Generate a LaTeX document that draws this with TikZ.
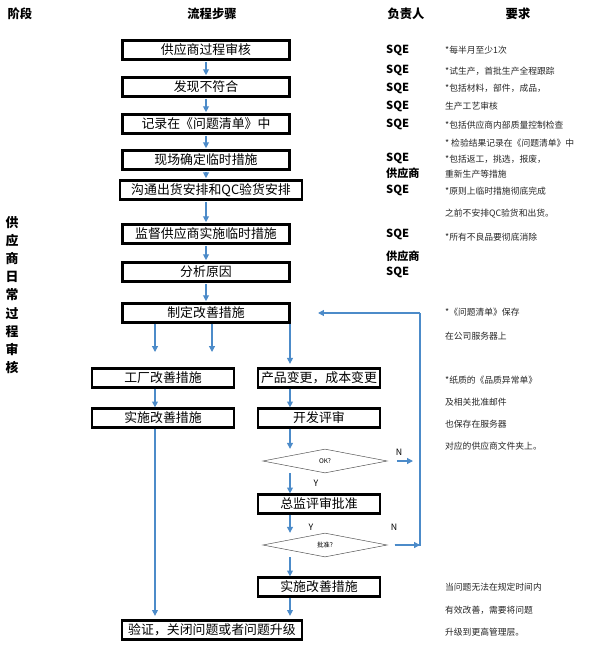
\documentclass[tikz,border=0pt]{standalone}
\usepackage{fontspec}
\setmainfont{Noto Sans CJK SC}
\usetikzlibrary{shapes.geometric,arrows.meta}
\begin{document}
\begin{tikzpicture}[x=0.03cm,y=-0.03cm,
 box/.style={draw,line width=2pt,minimum height=19*0.85pt,inner sep=1pt,font=\fontsize{11}{12}\selectfont},
 dia/.style={draw=black!70,diamond,aspect=5.5,inner sep=0pt,minimum width=125*0.85pt,minimum height=24*0.85pt,font=\fontsize{5.5}{6}\selectfont},
 arr/.style={draw=blue!50!cyan!70!black!70,line width=1pt,-{Triangle[length=5pt,width=5pt]}},
 lin/.style={draw=blue!50!cyan!70!black!70,line width=1pt},
 hd/.style={font=\bfseries\fontsize{10.5}{12}\selectfont},
 who/.style={font=\bfseries\fontsize{9.5}{10}\selectfont,anchor=west},
 req/.style={font=\fontsize{7.5}{8}\selectfont,anchor=west,text=black!85},
 yn/.style={font=\fontsize{7.5}{8}\selectfont}]
\useasboundingbox (0,0) rectangle (600,656);
\node[hd] (h1) at (20,14) {阶段};
\node[hd] (h2) at (212,14) {流程步骤};
\node[hd] (h3) at (406,14) {负责人};
\node[hd] (h4) at (518,14) {要求};
\node[font=\bfseries\fontsize{11}{15.5}\selectfont,align=center] (stage) at (12,295) {供\\应\\商\\日\\常\\过\\程\\审\\核};
% main boxes
\node[box,minimum width=168*0.85pt] (b1) at (206,50) {供应商过程审核};
\node[box,minimum width=168*0.85pt] (b2) at (206,87) {发现不符合};
\node[box,minimum width=168*0.85pt] (b3) at (206,124) {记录在《问题清单》中};
\node[box,minimum width=168*0.85pt] (b4) at (206,160) {现场确定临时措施};
\node[box,minimum width=183*0.85pt] (b5) at (211,190) {沟通出货安排和QC验货安排};
\node[box,minimum width=168*0.85pt] (b6) at (206,234) {监督供应商实施临时措施};
\node[box,minimum width=168*0.85pt] (b7) at (206,272) {分析原因};
\node[box,minimum width=168*0.85pt] (b8) at (206,313) {制定改善措施};
\foreach \a/\b in {b1/b2,b2/b3,b3/b4,b4/b5,b5/b6,b6/b7,b7/b8}
  \draw[arr] ([yshift=-1pt]\a.south-|b1) -- ([yshift=1pt]\b.north-|b1);
% left branch
\node[box,minimum width=142*0.85pt] (l1) at (163,378) {工厂改善措施};
\node[box,minimum width=142*0.85pt] (l2) at (163,418) {实施改善措施};
\node[box,minimum width=181*0.85pt] (v) at (212,630) {验证，关闭问题或者问题升级};
\coordinate (t1) at (155,352);
\coordinate (t2) at (212,352);
\draw[arr] (b8.south-|t1) -- (t1);
\draw[arr] (b8.south-|t2) -- (t2);
\draw[arr] (l1.south-|t1) -- (l2.north-|t1);
\draw[arr] (l2.south-|t1) -- ([yshift=3pt]v.north-|t1);
% right branch
\node[box,minimum width=122*0.85pt] (r1) at (319,378) {产品变更，成本变更};
\node[box,minimum width=122*0.85pt] (r2) at (319,418) {开发评审};
\node[dia] (d1) at (325,461) {OK?};
\node[box,minimum width=122*0.85pt] (r3) at (319,504) {总监评审批准};
\node[dia] (d2) at (325,545) {批准?};
\node[box,minimum width=122*0.85pt] (r4) at (319,587) {实施改善措施};
\coordinate (xr) at (290,0);
\draw[arr] (b8.south-|xr) -- ([yshift=3pt]r1.north-|xr);
\draw[arr] (r1.south-|xr) -- (r2.north-|xr);
\draw[arr] (r2.south-|xr) -- (d1.north-|xr);
\draw[arr] (d1.south-|xr) -- (r3.north-|xr);
\draw[arr] (r3.south-|xr) -- (d2.north-|xr);
\draw[arr] (d2.south-|xr) -- (r4.north-|xr);
\draw[arr] (r4.south-|xr) -- ([yshift=3pt]v.north-|xr);
\node[yn] (y1) at (316,483) {Y};
\node[yn] (y2) at (311,527) {Y};
\coordinate (n1) at (413,461);
\draw[arr] ([xshift=8pt]d1.east) -- (n1);
\node[yn] (nl1) at (399,452) {N};
\node[yn] (nl2) at (394,527) {N};
\coordinate (c1) at (420,545);
\coordinate (c2) at (420,313);
\coordinate (c3) at (318,313);
\draw[lin] ([xshift=6pt]d2.east) -- (c1) -- (c2);
\draw[arr] (c2) -- (c3);
\draw[arr] ([xshift=6pt]d2.east) -- (c1);
% who
\foreach \y/\t [count=\i] in {50/SQE,70/SQE,88/SQE,106/SQE,124/SQE,158/SQE,173/供应商,190/SQE,234/SQE,256/供应商,272/SQE}
  \node[who] (w\i) at (382,\y) {\t};
% requirements
\foreach \y/\t [count=\i] in {50/{*每半月至少1次},71/{*试生产，首批生产全程跟踪},88/{*包括材料，部件，成品，},106/{生产工艺审核},125/{*包括供应商内部质量控制检查},143/{* 检验结果记录在《问题清单》中},159/{*包括返工，挑选，报废，},174/{重新生产等措施},191/{*原则上临时措施彻底完成},214/{之前不安排QC验货和出货。},237/{*所有不良品要彻底消除},312/{*《问题清单》保存},336/{在公司服务器上},380/{*纸质的《品质异常单》},402/{及相关批准邮件},424/{也保存在服务器},446/{对应的供应商文件夹上。},587/{当问题无法在规定时间内},610/{有效改善，需要将问题},632/{升级到更高管理层。}}
  \node[req] (q\i) at (441,\y) {\t};
\end{tikzpicture}
\end{document}
